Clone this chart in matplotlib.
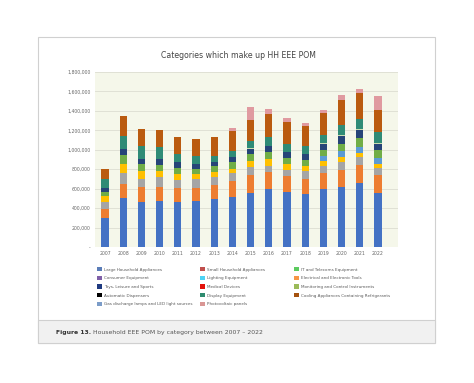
import matplotlib.pyplot as plt
from matplotlib.patches import Patch, Rectangle
from matplotlib.ticker import FuncFormatter
import numpy as np

years = ['2007', '2008', '2009', '2010', '2011', '2012', '2013', '2014',
         '2015', '2016', '2017', '2018', '2019', '2020', '2021', '2022']

# tonnes placed on market (bottom to top of each stack)
large_hh = [294000, 507000, 465000, 475000, 458000, 471000, 492000, 516000,
            554000, 595000, 564000, 547000, 599000, 619000, 657000, 554000]
small_hh = [94000, 141000, 148000, 144000, 144000, 138000, 148000, 162000,
            184000, 172000, 162000, 155000, 161000, 176000, 190000, 186000]
it_telecoms = [72000, 112000, 89000, 100000, 90000, 89000, 79000, 79000,
               87000, 69000, 69000, 79000, 69000, 79000, 75000, 69000]
consumer = [67000, 93000, 83000, 66000, 62000, 52000, 55000, 48000,
            55000, 69000, 58000, 48000, 52000, 48000, 45000, 41000]
lighting = [0, 0, 0, 0, 0, 0, 0, 0,
            0, 0, 0, 0, 52000, 62000, 62000, 65000]
tools = [43000, 92000, 68000, 58000, 58000, 48000, 55000, 66000,
         73000, 72000, 66000, 66000, 68000, 76000, 89000, 80000]
toys = [37000, 60000, 52000, 62000, 59000, 52000, 45000, 51000,
        57000, 59000, 55000, 58000, 59000, 79000, 83000, 65000]
monitoring = [0, 0, 0, 0, 0, 0, 0, 0,
              6000, 8000, 8000, 8000, 8000, 8000, 8000, 8000]
display = [90000, 140000, 138000, 120000, 86000, 83000, 62000, 69000,
           74000, 85000, 81000, 82000, 88000, 112000, 109000, 116000]
cooling = [103000, 202000, 175000, 179000, 179000, 175000, 193000, 203000,
           220000, 234000, 227000, 206000, 224000, 252000, 268000, 230000]
pv_panels = [0, 0, 0, 0, 0, 0, 0, 34000,
             125000, 58000, 38000, 28000, 34000, 48000, 42000, 138000]

stack = [
    (large_hh, '#4472C4'),
    (small_hh, '#ED7D31'),
    (it_telecoms, '#A5A5A5'),
    (consumer, '#FFC000'),
    (lighting, '#5B9BD5'),
    (tools, '#70AD47'),
    (toys, '#264478'),
    (monitoring, '#C9DDB0'),
    (display, '#2F8B76'),
    (cooling, '#BA5B10'),
    (pv_panels, '#E09AA0'),
]

# legend as printed in the report (column by column)
legend_cols = [
    [('Large Household Appliances', '#5B7DB8'),
     ('Consumer Equipment', '#7F5FA8'),
     ('Toys, Leisure and Sports', '#1F3A80'),
     ('Automatic Dispensers', '#000000'),
     ('Gas discharge lamps and LED light sources', '#7B9CC8')],
    [('Small Household Appliances', '#C0504D'),
     ('Lighting Equipment', '#4DD3F5'),
     ('Medical Devices', '#E3120B'),
     ('Display Equipment', '#2E8B6F'),
     ('Photovoltaic panels', '#D99694')],
    [('IT and Telecoms Equipment', '#5CCB5F'),
     ('Electrical and Electronic Tools', '#F79646'),
     ('Monitoring and Control Instruments', '#9BBB59'),
     ('Cooling Appliances Containing Refrigerants', '#A5520F')],
]

fig = plt.figure(figsize=(4.74, 3.83), dpi=100)
fig.patch.set_facecolor('white')

# outer frame and caption band
fig.patches.append(Rectangle((38 / 474, 1 - 343 / 383), 397 / 474, 306 / 383,
                             transform=fig.transFigure, facecolor='white',
                             edgecolor='#D0D0D0', linewidth=0.8, zorder=-10))
fig.patches.append(Rectangle((38 / 474, 1 - 343 / 383), 397 / 474, 23 / 383,
                             transform=fig.transFigure, facecolor='#F1F1F1',
                             edgecolor='#D0D0D0', linewidth=0.8, zorder=-10))

ax = fig.add_axes([95 / 474, 1 - 247 / 383, 303 / 474, 175 / 383])
ax.set_facecolor('#F5F7EA')

x = np.arange(len(years))
bottom = np.zeros(len(years))
for vals, col in stack:
    v = np.array(vals, dtype=float)
    ax.bar(x, v, width=0.4, bottom=bottom, color=col, zorder=3)
    bottom += v

ax.set_ylim(0, 1800000)
ax.set_xlim(-0.55, 16.1)
ax.set_yticks(range(0, 1800001, 200000))
ax.yaxis.set_major_formatter(FuncFormatter(lambda v, p: '-' if v == 0 else f'{int(v):,}'))
ax.set_xticks(x)
ax.set_xticklabels(years)
ax.tick_params(axis='both', length=0, labelsize=3.3, colors='#666666', pad=3)
ax.grid(axis='y', color='#DCDDD2', linewidth=0.6, zorder=0)
for s in ax.spines.values():
    s.set_visible(False)

fig.text(238 / 474, 1 - 56 / 383, 'Categories which make up HH EEE POM',
         ha='center', va='center', fontsize=5.6, color='#444444')

col_x = [96.5, 199.5, 293.5]
for cx, entries in zip(col_x, legend_cols):
    handles = [Patch(facecolor=c, edgecolor='none', label=l) for l, c in entries]
    fig.legend(handles=handles, loc='upper left',
               bbox_to_anchor=(cx / 474, 1 - 267 / 383),
               frameon=False, fontsize=3.0, labelcolor='#595959',
               handlelength=1.2, handleheight=1.2, handletextpad=0.6,
               labelspacing=1.0, borderpad=0, borderaxespad=0)

t1 = fig.text(56 / 474, 1 - 332.5 / 383, 'Figure 13.', ha='left', va='center',
              fontsize=4.4, color='#333333', fontweight='bold')
ax.annotate(' Household EEE POM by category between 2007 – 2022',
            xy=(1, 0.5), xycoords=t1, ha='left', va='center',
            fontsize=4.4, color='#555555', annotation_clip=False)

fig.savefig('out.png', dpi=100)
